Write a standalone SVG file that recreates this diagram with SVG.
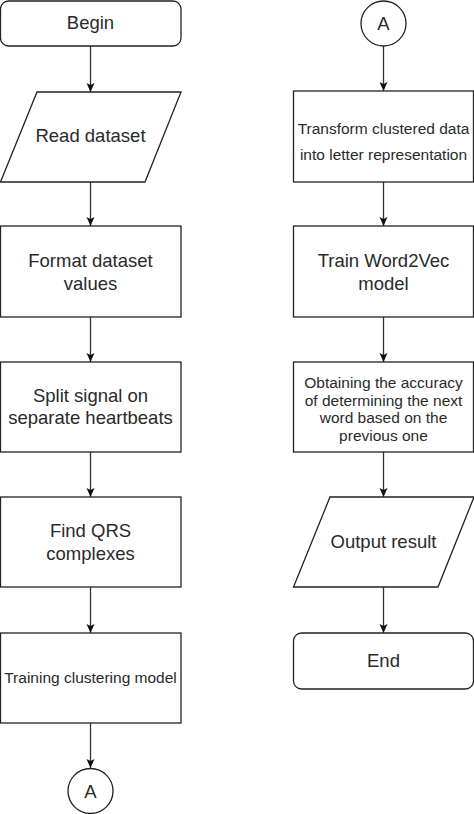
<svg xmlns="http://www.w3.org/2000/svg" width="474" height="814" viewBox="0 0 474 814">
<defs>
<marker id="arr" markerWidth="10" markerHeight="10" refX="9" refY="5" orient="auto" markerUnits="userSpaceOnUse">
<path d="M0,1 L9,5 L0,9 L2,5 Z" fill="#111"/>
</marker>
<style>
.s{fill:#fff;stroke:#222;stroke-width:1.3}
.t{font-family:"Liberation Sans",Arial,sans-serif;font-size:18.5px;fill:#2a2a2a;text-anchor:middle}
.m{font-family:"Liberation Sans",Arial,sans-serif;font-size:15.5px;fill:#2a2a2a;text-anchor:middle}
.c{fill:none;stroke:#333;stroke-width:1.3;marker-end:url(#arr)}
</style>
</defs>
<rect width="474" height="814" fill="#fff"/>
<g id="connectors">
<line class="c" x1="90.5" y1="46" x2="90.5" y2="92"/>
<line class="c" x1="90.5" y1="182" x2="90.5" y2="226"/>
<line class="c" x1="90.5" y1="317" x2="90.5" y2="362"/>
<line class="c" x1="90.5" y1="452" x2="90.5" y2="497"/>
<line class="c" x1="90.5" y1="587" x2="90.5" y2="633"/>
<line class="c" x1="90.5" y1="723" x2="90.5" y2="768"/>
<line class="c" x1="383.5" y1="46" x2="383.5" y2="91"/>
<line class="c" x1="383.5" y1="182" x2="383.5" y2="226"/>
<line class="c" x1="383.5" y1="317" x2="383.5" y2="362"/>
<line class="c" x1="383.5" y1="452" x2="383.5" y2="497"/>
<line class="c" x1="383.5" y1="587" x2="383.5" y2="633"/>
</g>
<g id="begin">
<rect class="s" x="0.5" y="1" width="180.5" height="45" rx="8"/>
<text class="t" x="90.5" y="29">Begin</text>
</g>
<g id="read">
<path class="s" d="M37,92 L181,92 L145,182 L0.5,182 Z"/>
<text class="t" x="90.5" y="142">Read dataset</text>
</g>
<g id="format">
<rect class="s" x="0.5" y="226" width="180.5" height="91"/>
<text class="t" x="90.5" y="267">Format dataset</text>
<text class="t" x="90.5" y="290">values</text>
</g>
<g id="split">
<rect class="s" x="0.5" y="362" width="180.5" height="90"/>
<text class="t" x="90.5" y="402">Split signal on</text>
<text class="t" x="90.5" y="424">separate heartbeats</text>
</g>
<g id="qrs">
<rect class="s" x="0.5" y="497" width="180.5" height="90"/>
<text class="t" x="90.5" y="537">Find QRS</text>
<text class="t" x="90.5" y="560">complexes</text>
</g>
<g id="training">
<rect class="s" x="0.5" y="633" width="180.5" height="90"/>
<text class="m" x="90.5" y="683">Training clustering model</text>
</g>
<g id="connA1">
<circle class="s" cx="90.5" cy="791" r="22.5"/>
<text class="t" x="90.5" y="797.5">A</text>
</g>
<g id="connA2">
<circle class="s" cx="383.5" cy="23.5" r="22.5"/>
<text class="t" x="383.5" y="30">A</text>
</g>
<g id="transform">
<rect class="s" x="293.5" y="91" width="180" height="91"/>
<text class="m" x="383.5" y="134">Transform clustered data</text>
<text class="m" x="383.5" y="160">into letter representation</text>
</g>
<g id="word2vec">
<rect class="s" x="293.5" y="226" width="180" height="91"/>
<text class="t" x="383.5" y="267">Train Word2Vec</text>
<text class="t" x="383.5" y="290">model</text>
</g>
<g id="accuracy">
<rect class="s" x="293.5" y="362" width="180" height="90"/>
<text class="m" x="383.5" y="388">Obtaining the accuracy</text>
<text class="m" x="383.5" y="405.5">of determining the next</text>
<text class="m" x="383.5" y="423">word based on the</text>
<text class="m" x="383.5" y="440.5">previous one</text>
</g>
<g id="output">
<path class="s" d="M330,497 L474,497 L438,587 L293.5,587 Z"/>
<text class="t" x="383.5" y="548">Output result</text>
</g>
<g id="end">
<rect class="s" x="293.5" y="633" width="180" height="56" rx="8"/>
<text class="t" x="383.5" y="667">End</text>
</g>
</svg>
